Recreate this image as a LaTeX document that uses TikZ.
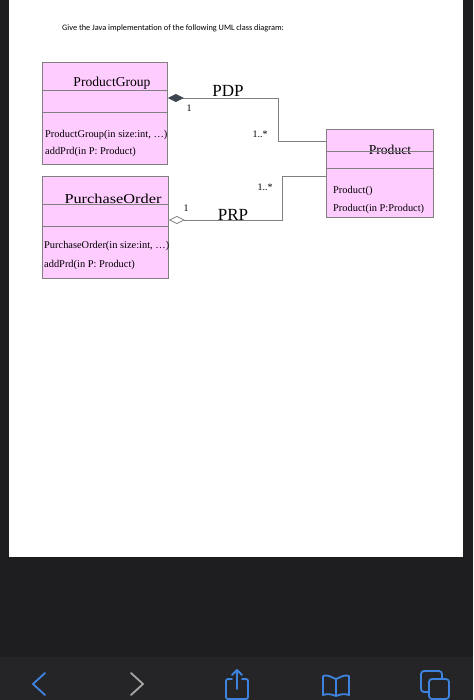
\documentclass[tikz,border=0pt]{standalone}
\usepackage{fontspec}
\setmainfont{Liberation Serif}
\newfontfamily\uifont{Carlito}
\usetikzlibrary{arrows.meta}

\definecolor{umlpink}{RGB}{255,204,255}
\definecolor{phonebg}{RGB}{30,30,32}
\definecolor{barbg}{RGB}{37,37,39}
\definecolor{iosblue}{RGB}{62,132,222}
\definecolor{linegray}{RGB}{128,128,128}
\definecolor{diamondgray}{RGB}{62,70,82}

\tikzset{
  classbox/.style={draw=linegray, fill=umlpink, line width=0.8pt, inner sep=0pt, anchor=north west},
  sepline/.style={linegray, line width=0.8pt},
  classname/.style={font=\fontsize{13.6}{14}\selectfont, inner sep=0pt},
  method/.style={font=\fontsize{10.4}{11}\selectfont, anchor=west, inner sep=0pt},
  mult/.style={font=\fontsize{10}{10}\selectfont, inner sep=0pt},
  assocname/.style={font=\fontsize{17}{17}\selectfont, inner sep=0pt},
  link/.style={linegray, line width=0.8pt},
  icon/.style={line width=1.8pt, line cap=round, line join=round},
}

\begin{document}
\begin{tikzpicture}[x=1pt,y=-1pt]
  \useasboundingbox (0,0) rectangle (473,700);
  % phone frame
  \fill[phonebg] (0,0) rectangle (473,700);
  \fill[white] (9,0) rectangle (463,557);
  \fill[barbg] (0,657) rectangle (473,700);

  \node[font=\uifont\fontsize{8.3}{9}\selectfont, anchor=west, inner sep=0pt] (heading) at (62,28)
    {Give the Java implementation of the following UML class diagram:};

  % classes
  \node[classbox, minimum width=125, minimum height=102] (pg) at (42,62) {};
  \draw[sepline] ([yshift=-28pt]pg.north west) -- ([yshift=-28pt]pg.north east);
  \draw[sepline] ([yshift=-50pt]pg.north west) -- ([yshift=-50pt]pg.north east);
  \node[classname] (pgname) at (112,83) {ProductGroup};
  \node[method] (pgm1) at (45,135) {ProductGroup(in size:int, \dots)};
  \node[method] (pgm2) at (45,152) {addPrd(in P: Product)};

  \node[classbox, minimum width=126, minimum height=102] (po) at (42,176) {};
  \draw[sepline] ([yshift=-28pt]po.north west) -- ([yshift=-28pt]po.north east);
  \draw[sepline] ([yshift=-50pt]po.north west) -- ([yshift=-50pt]po.north east);
  \node[classname] (poname) at (113,199) {\scalebox{1.2}[1]{PurchaseOrder}};
  \node[method] (pom1) at (44,246) {PurchaseOrder(in size:int, \dots)};
  \node[method] (pom2) at (44,265) {addPrd(in P: Product)};

  \node[classbox, minimum width=107, minimum height=88] (prod) at (326,129) {};
  \node[classname] (prodname) at (390,150) {Product};
  \draw[sepline] ([yshift=-22pt]prod.north west) -- ([yshift=-22pt]prod.north east);
  \draw[sepline] ([yshift=-39pt]prod.north west) -- ([yshift=-39pt]prod.north east);
  \node[method] (prodm1) at (333,191) {Product()};
  \node[method] (prodm2) at (333,209) {Product(in P:Product)};

  % associations
  \coordinate (pdpbend) at (278,98);
  \coordinate (prpbend) at (282,220);
  \draw[link, {Diamond[fill=diamondgray, color=diamondgray, length=16pt, width=8pt]}-]
    ([yshift=-36pt]pg.north east) -- (pdpbend) |- ([yshift=-12pt]prod.north west);
  \draw[link, {Diamond[open, length=16pt, width=8pt]}-]
    ([yshift=-44pt]po.north east) -- (prpbend) |- ([yshift=-47pt]prod.north west);
  \node[assocname] (pdp) at (228,91) {PDP};
  \node[assocname] (prp) at (233,215) {PRP};
  \node[mult] (pdpone) at (189,108) {1};
  \node[mult] (pdpmany) at (260,134) {1..*};
  \node[mult] (prpone) at (186,208) {1};
  \node[mult] (prpmany) at (265,187) {1..*};

  % toolbar
  \draw[icon, iosblue] (45,673) -- (33,684) -- (45,695);
  \draw[icon, gray!70] (131,673) -- (143,684) -- (131,695);
  \draw[icon, iosblue, rounded corners=2pt] (232,679) -- (226,679) -- (226,699) -- (248,699) -- (248,679) -- (242,679);
  \draw[icon, iosblue] (237,689) -- (237,670);
  \draw[icon, iosblue] (232,675) -- (237,670) -- (242,675);
  \draw[icon, iosblue] (336,679) to[out=160,in=20] (323,676) -- (323,695) to[out=20,in=160] (336,696)
    to[out=20,in=160] (349,695) -- (349,676) to[out=160,in=20] (336,679) -- (336,696);
  \draw[icon, iosblue, rounded corners=3pt] (421,671) rectangle (442,692);
  \draw[icon, iosblue, fill=barbg, rounded corners=3pt] (429,679) rectangle (449,699);
\end{tikzpicture}
\end{document}
